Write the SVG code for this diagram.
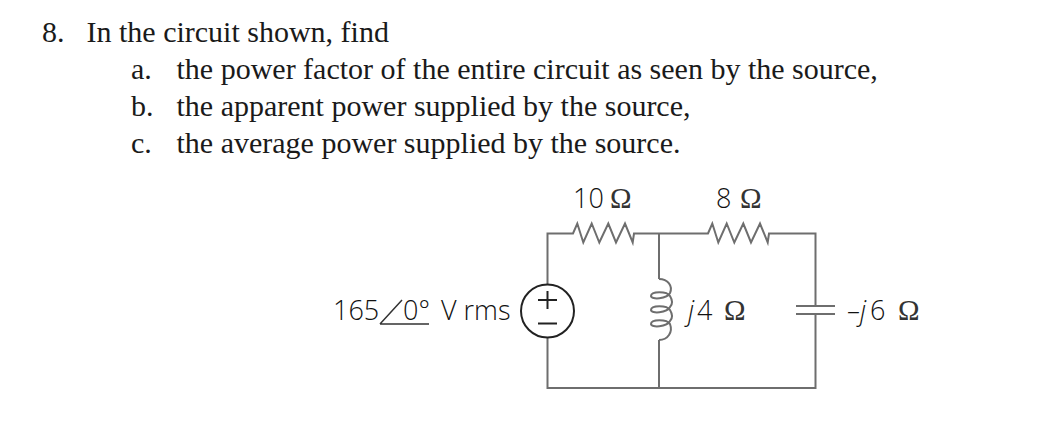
<svg xmlns="http://www.w3.org/2000/svg" width="1054" height="433" viewBox="0 0 1054 433">
<style>
.q{font-family:"Liberation Serif","Times New Roman",serif;font-size:30px;fill:#1a1a1a}
.l{font-family:"Open Sans",Lato,sans-serif;font-weight:300;font-size:27px;fill:#111}
.i{font-style:italic}
.o{font-family:"Liberation Serif",serif;font-size:29px;fill:#333}
.w{fill:none;stroke:#6e6e6e;stroke-width:2}
.k{fill:none;stroke:#222;stroke-width:2}
</style>
<rect width="1054" height="433" fill="#fff"/>
<g id="question">
<text class="q" x="42" y="42">8.</text><text class="q" x="86.500" y="42">In the circuit shown, find</text>
<text class="q" x="131" y="79">a.</text><text class="q" x="176.500" y="79">the power factor of the entire circuit as seen by the source,</text>
<text class="q" x="131" y="116">b.</text><text class="q" x="176.500" y="116">the apparent power supplied by the source,</text>
<text class="q" x="131" y="153">c.</text><text class="q" x="176.500" y="153">the average power supplied by the source.</text>
</g>
<g id="connectors">
<path class="w" d="M547.500 284V233.500H573L577.300 223.500L583.300 242.500L591.700 223.500L599.300 242.500L608.300 223.500L616 242.500L625 223.500L632.700 242.500L634 233.500H708L712.300 223.500L718.300 242.500L726.700 223.500L734.300 242.500L743.300 223.500L751 242.500L760 223.500L767.700 242.500L769 233.500H815.500V306"/>
<path class="w" d="M659 233.500V279"/>
<path class="w" d="M659 340V388M547.500 338V388H815.500V314"/>
</g>
<g id="source">
<circle class="k" cx="547.500" cy="311" r="26.500"/>
<path class="k" d="M538 300H557M547.500 291V309M538 323.500H557"/>
<text class="l" x="333" y="320">165</text>
<path d="M380 324L402 300M380 324H429" fill="none" stroke="#333" stroke-width="1.500"/>
<text class="l" x="403" y="320">0°</text>
<text class="l" x="441" y="320">V rms</text>
</g>
<g id="inductor">
<path class="w" d="M659 279C668 279 673 286 670 293C667 299 651 300 651 296C651 291 667 291 670 296C673 301 672 305 670 307C667 313 651 314 651 310C651 305 667 305 670 310C673 315 672 319 670 321C667 327 651 328 651 324C651 319 667 319 670 324C673 332 668 340 659 340"/>
<text class="l i" x="688" y="320">j</text>
<text class="l" x="697" y="320">4</text>
<text class="o" x="724" y="320">Ω</text>
</g>
<g id="capacitor">
<path class="w" d="M796 306H835M796 314H835"/>
<text class="l i" x="847" y="320">–j</text>
<text class="l" x="870" y="320">6</text>
<text class="o" x="898" y="320">Ω</text>
</g>
<g id="r10"><text class="l" x="573" y="208">10</text><text class="o" x="610" y="208">Ω</text></g>
<g id="r8"><text class="l" x="716" y="208">8</text><text class="o" x="740" y="208">Ω</text></g>
</svg>
